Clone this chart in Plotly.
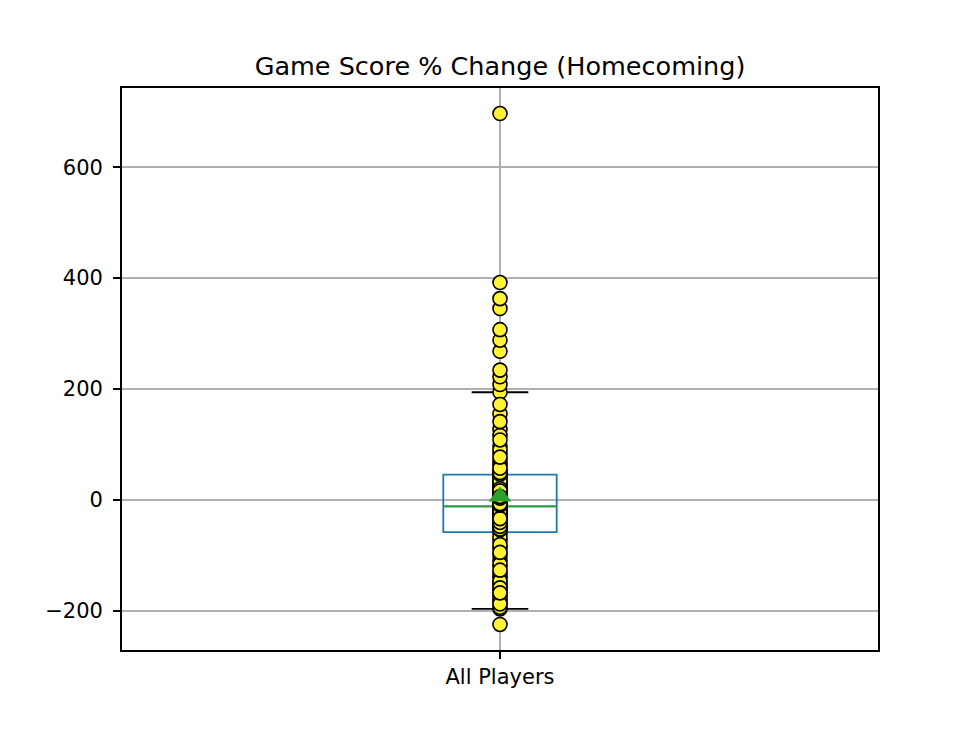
import numpy as np
import plotly.graph_objects as go

category = "All Players"
title = "Game Score % Change (Homecoming)"

# Game score % change values for all players (unsorted)
low_outliers = [-225]
lower_quarter = [-156, -60, -181, -109, -138, -197, -74, -163, -121, -88, -185, -142, -67, -172,
                 -101, -133, -194, -81, -151, -116, -176, -95, -147, -127, -188, -159, -168]
second_quarter = [-30, -51, -17, -43, -23, -54, -36, -14, -46, -26, -19, -39, -50, -21, -32,
                  -15, -45, -28, -53, -18, -37, -25, -48, -16, -41, -20, -34]
third_quarter = [12, -6, 31, 0, 22, -10, 40, 5, -3, 18, 28, -9, 8, 44, 2, 25, -4, 14, 37, -1,
                 10, 34, -7, 20, 3, 16, 6]
upper_quarter = [97, 53, 155, 66, 127, 46, 84, 194, 62, 116, 72, 141, 49, 90, 172, 57, 108, 77]
high_outliers = [208, 222, 234, 268, 288, 307, 345, 363, 392, 697]

y_ticks = [-200, 0, 200, 400, 600]

values = np.array(low_outliers + lower_quarter + second_quarter + third_quarter
                  + upper_quarter + high_outliers, dtype=float)

# statistics (matplotlib-style)
q1, med, q3 = np.percentile(values, [25, 50, 75])
iqr = q3 - q1
lo_lim, hi_lim = q1 - 1.5 * iqr, q3 + 1.5 * iqr
lo_wh = values[values >= lo_lim].min()
hi_wh = values[values <= hi_lim].max()
mean = values.mean()

pos = 1.0
box_w = 0.15
cap_w = box_w / 2

fig = go.Figure()

fig.add_trace(go.Box(
    x=[pos], q1=[q1], median=[med], q3=[q3], lowerfence=[q1], upperfence=[q3],
    width=box_w, whiskerwidth=0, boxpoints=False,
    line=dict(color="#1f77b4", width=1.8), fillcolor="rgba(0,0,0,0)",
    showlegend=False, hoverinfo="skip",
))

# whiskers
fig.add_trace(go.Scatter(
    x=[pos, pos, None, pos, pos], y=[q3, hi_wh, None, q1, lo_wh],
    mode="lines", line=dict(color="black", width=1.8), showlegend=False, hoverinfo="skip"))
# caps
fig.add_trace(go.Scatter(
    x=[pos - cap_w / 2, pos + cap_w / 2, None, pos - cap_w / 2, pos + cap_w / 2],
    y=[hi_wh, hi_wh, None, lo_wh, lo_wh],
    mode="lines", line=dict(color="black", width=1.8), showlegend=False, hoverinfo="skip"))
# median
fig.add_trace(go.Scatter(
    x=[pos - box_w / 2, pos + box_w / 2], y=[med, med],
    mode="lines", line=dict(color="#2ca02c", width=1.8), showlegend=False, hoverinfo="skip"))
# all points
fig.add_trace(go.Scatter(
    x=[pos] * len(values), y=values, mode="markers",
    marker=dict(size=14, color="#fff233", line=dict(color="black", width=1.6)),
    showlegend=False))
# mean
fig.add_trace(go.Scatter(
    x=[pos], y=[mean], mode="markers",
    marker=dict(symbol="triangle-up", size=20, color="#2ca02c"),
    showlegend=False))

fig.update_layout(
    width=976, height=731,
    margin=dict(l=114, r=106, t=80, b=89),
    paper_bgcolor="white", plot_bgcolor="white",
    font=dict(family="DejaVu Sans", color="black", size=21),
    title=dict(text=title, x=(114 + 756 / 2) / 976, xanchor="center",
               y=1 - 58 / 731, yanchor="middle",
               font=dict(size=25.5, family="DejaVu Sans", color="black")),
)

axis_common = dict(
    showline=True, linecolor="black", linewidth=1.7, mirror=True,
    ticks="outside", ticklen=7, tickwidth=1.7, tickcolor="black",
    showgrid=True, gridcolor="#b0b0b0", gridwidth=1.7, zeroline=False,
    tickfont=dict(size=21, family="DejaVu Sans", color="black"),
)

fig.update_xaxes(range=[0.5, 1.5], tickvals=[pos], ticktext=[category], **axis_common)

span = values.max() - values.min()
fig.update_yaxes(range=[values.min() - 0.05 * span, values.max() + 0.05 * span],
                 tickvals=y_ticks, ticklabelstandoff=6, **axis_common)

fig.write_html("out.html")
